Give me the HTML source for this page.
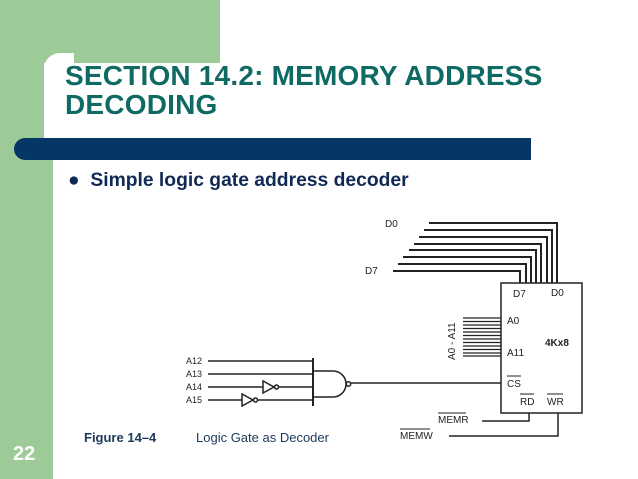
<!DOCTYPE html>
<html><head><style>
body{margin:0;width:638px;height:479px;overflow:hidden;background:#fff;position:relative;font-family:"Liberation Sans",sans-serif}
.g{position:absolute;background:#9dcb98}
</style></head><body>
<div class="g" style="left:0;top:0;width:220px;height:63px"></div>
<div class="g" style="left:0;top:0;width:44px;height:479px"></div>
<div class="g" style="left:0;top:150px;width:53px;height:329px"></div>
<div style="position:absolute;left:44px;top:53px;width:30px;height:30px;background:#fff;border-top-left-radius:16px"></div>
<div style="position:absolute;left:65px;top:61px;font-weight:bold;font-size:28px;line-height:29px;color:#0f6a63;letter-spacing:0.2px">SECTION 14.2: MEMORY ADDRESS<br>DECODING</div>
<div style="position:absolute;left:14px;top:138px;width:517px;height:22px;background:#053665;border-radius:11px 0 0 11px"></div>
<div style="position:absolute;left:68px;top:170px;font-weight:bold;font-size:19.3px;color:#102a55">●&nbsp; Simple logic gate address decoder</div>
<div style="position:absolute;left:84px;top:430px;font-weight:bold;font-size:13px;color:#1b3a5c">Figure 14–4</div>
<div style="position:absolute;left:196px;top:430px;font-size:13px;color:#1b3a5c">Logic Gate as Decoder</div>
<div style="position:absolute;left:13px;top:443px;font-weight:bold;font-size:20px;color:#fff">22</div>
<svg width="638" height="479" style="position:absolute;left:0;top:0" font-family="Liberation Sans,sans-serif" font-size="10" fill="#222">
<g stroke="#222" stroke-width="2" fill="none">
<polyline points="429,223 557,223 557,283"/>
<polyline points="424,230 552,230 552,283"/>
<polyline points="419,237 547,237 547,283"/>
<polyline points="414,244 541,244 541,283"/>
<polyline points="409,250 536,250 536,283"/>
<polyline points="403,257 531,257 531,283"/>
<polyline points="398,264 526,264 526,283"/>
<polyline points="393,271 520,271 520,283"/>
<rect x="501" y="283" width="81" height="130" stroke-width="1.5"/>
</g>
<g stroke="#222" stroke-width="1.2">
<line x1="463" y1="318" x2="501" y2="318"/><line x1="463" y1="321.5" x2="501" y2="321.5"/><line x1="463" y1="325" x2="501" y2="325"/><line x1="463" y1="328.5" x2="501" y2="328.5"/><line x1="463" y1="332" x2="501" y2="332"/><line x1="463" y1="335.5" x2="501" y2="335.5"/><line x1="463" y1="339" x2="501" y2="339"/><line x1="463" y1="342.5" x2="501" y2="342.5"/><line x1="463" y1="346" x2="501" y2="346"/><line x1="463" y1="349.5" x2="501" y2="349.5"/><line x1="463" y1="353" x2="501" y2="353"/><line x1="463" y1="356" x2="501" y2="356"/>
</g>
<g stroke="#222" stroke-width="1.5" fill="none">
<line x1="208" y1="361" x2="313" y2="361"/>
<line x1="208" y1="374" x2="313" y2="374"/>
<line x1="208" y1="387" x2="263" y2="387"/><line x1="279" y1="387" x2="313" y2="387"/>
<line x1="208" y1="400" x2="242" y2="400"/><line x1="258" y1="400" x2="313" y2="400"/>
<line x1="313" y1="358" x2="313" y2="406" stroke-width="2"/>
<path d="M313,371 H333 A13,13 0 0 1 333,397 H313"/>
<circle cx="348.5" cy="384" r="2.2"/>
<line x1="351" y1="383" x2="501" y2="383"/>
<polygon points="263,381 263,393 274,387"/><circle cx="276.5" cy="387" r="2"/>
<polygon points="242,394 242,406 253,400"/><circle cx="255.5" cy="400" r="2"/>
<polyline points="482,421 529,421 529,413"/>
<polyline points="449,436 558,436 558,413"/>
<line x1="507" y1="376" x2="521" y2="376" stroke-width="1"/>
<line x1="520" y1="394" x2="534" y2="394" stroke-width="1"/>
<line x1="547" y1="394" x2="563" y2="394" stroke-width="1"/>
<line x1="438" y1="413" x2="466" y2="413" stroke-width="1"/>
<line x1="400" y1="429" x2="430" y2="429" stroke-width="1"/>
</g>
<text x="385" y="227">D0</text><text x="365" y="274">D7</text>
<text x="513" y="297">D7</text><text x="551" y="296">D0</text>
<text x="507" y="324">A0</text><text x="507" y="356">A11</text>
<text x="545" y="346" font-weight="bold">4Kx8</text>
<text x="507" y="387">CS</text><text x="520" y="405">RD</text><text x="547" y="405">WR</text>
<text x="438" y="423">MEMR</text><text x="400" y="439">MEMW</text>
<text transform="translate(455,360) rotate(-90)">A0 - A11</text>
<text x="186" y="364" font-size="9">A12</text><text x="186" y="377" font-size="9">A13</text><text x="186" y="390" font-size="9">A14</text><text x="186" y="403" font-size="9">A15</text>
</svg>
</body></html>
